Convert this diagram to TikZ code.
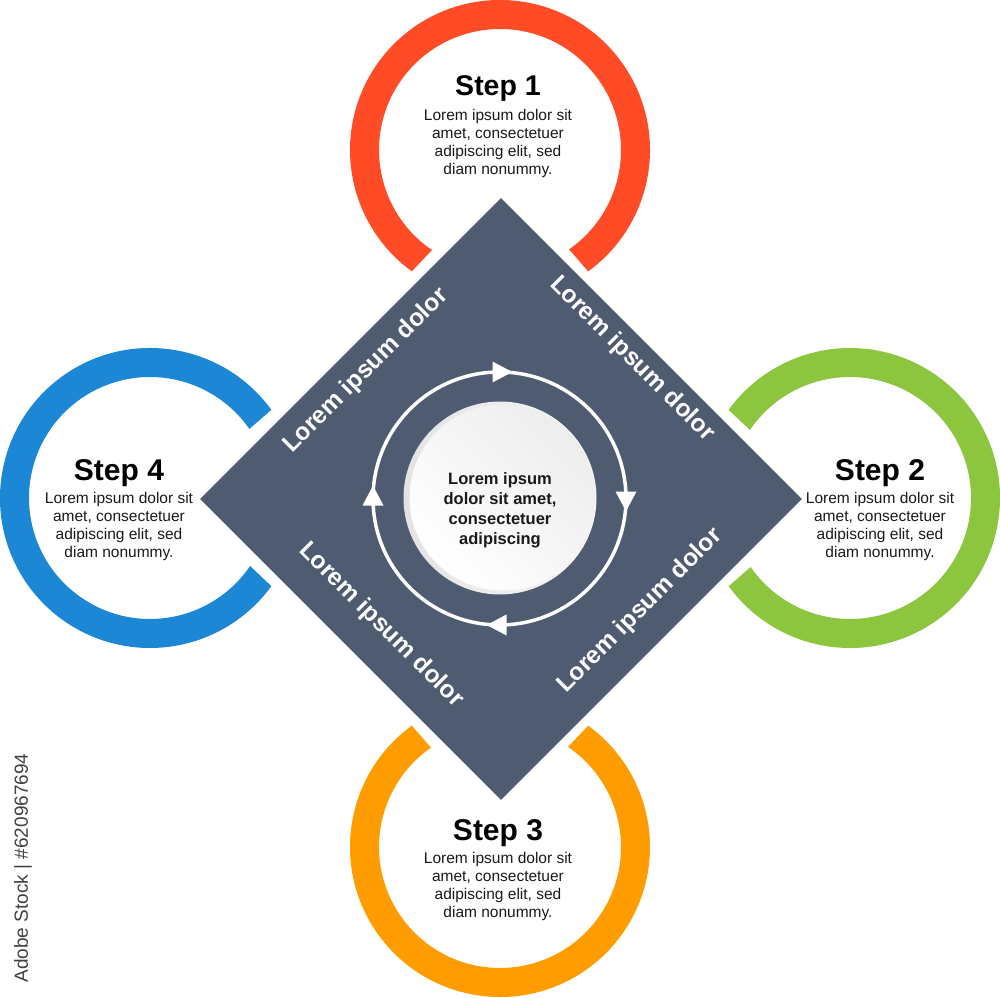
\documentclass[tikz,border=0pt]{standalone}
\usepackage{fontspec}
\setmainfont{Liberation Sans}
\usetikzlibrary{arrows.meta,shapes.geometric}
\definecolor{slate}{HTML}{4F5B70}
\definecolor{stepred}{HTML}{FF4B26}
\definecolor{stepgreen}{HTML}{8CC63F}
\definecolor{steporange}{HTML}{FF9D00}
\definecolor{stepblue}{HTML}{1C87D4}
\tikzstyle{title} = [font=\fontsize{30}{32}\selectfont\bfseries, text=black, inner sep=0pt]
\tikzstyle{body} = [font=\fontsize{15.5}{18}\selectfont, align=center, text=black!90, inner sep=0pt]
\tikzstyle{side} = [font=\fontsize{24.5}{28}\selectfont\bfseries, text=white, inner sep=0pt]
\tikzstyle{flow} = [line width=3.5pt, white, -{Triangle[length=20pt,width=20pt]}]
% open ring, gap at the bottom before rotating
\newcommand{\stepring}[3]{\fill[#3,shift={#1},rotate=#2] (-54:150)
  arc[start angle=-54,end angle=234,radius=150] -- (235.8:121)
  arc[start angle=235.8,end angle=-55.2,radius=121] -- cycle;}

\begin{document}
\begin{tikzpicture}[x=1pt,y=1pt,node distance=53pt]
  \useasboundingbox (0,0) rectangle (1000,997);

  \stepring{(500,847)}{0}{stepred}
  \stepring{(850,499)}{-90}{stepgreen}
  \stepring{(500,150)}{180}{steporange}
  \stepring{(150,499)}{90}{stepblue}

  \node[diamond,fill=slate,minimum size=602pt,inner sep=0pt,shape aspect=1] (hub) at (501,498) {};

  % centre disc and cycle
  \node[circle,minimum size=193pt,inner sep=0pt,left color=black!11,right color=black!3] (disc) at (500,499) {};
  \node[circle,minimum size=186pt,inner sep=0pt,top color=black!7,bottom color=white,shading angle=-45] (face) at (502.5,499.5) {};
  \node[circle,draw=white,line width=3.5pt,minimum size=253pt,inner sep=0pt,outer sep=0pt] (orbit) at (499.5,498.5) {};
  \draw[flow] (orbit.north) -- ++(13,0);
  \draw[flow] (orbit.east) -- ++(0,-13);
  \draw[flow] (orbit.south) -- ++(-13,0);
  \draw[flow] (orbit.west) -- ++(0,13);
  \node[font=\fontsize{16.5}{20}\selectfont\bfseries,align=center,text=black!90,inner sep=0pt] (core) at (500,487)
    {Lorem ipsum\\dolor sit amet,\\consectetuer\\adipiscing};

  % labels on the diamond
  \node[side,rotate=45]  (sidea) at (366,626) {Lorem ipsum dolor};
  \node[side,rotate=-45] (sideb) at (632,638) {Lorem ipsum dolor};
  \node[side,rotate=45]  (sidec) at (640,386) {Lorem ipsum dolor};
  \node[side,rotate=-45] (sided) at (381,372) {Lorem ipsum dolor};

  % steps
  \node[title,font=\fontsize{28.5}{32}\selectfont\bfseries] (t1) at (498,908) {Step 1};
  \node[body]  (b1) [below of=t1,node distance=54pt] {Lorem ipsum dolor sit\\amet, consectetuer\\adipiscing elit, sed\\diam nonummy.};
  \node[title] (t2) at (880,524) {Step 2};
  \node[body]  (b2) [below of=t2] {Lorem ipsum dolor sit\\amet, consectetuer\\adipiscing elit, sed\\diam nonummy.};
  \node[title] (t3) at (498,164) {Step 3};
  \node[body]  (b3) [below of=t3] {Lorem ipsum dolor sit\\amet, consectetuer\\adipiscing elit, sed\\diam nonummy.};
  \node[title] (t4) at (119,524) {Step 4};
  \node[body]  (b4) [below of=t4] {Lorem ipsum dolor sit\\amet, consectetuer\\adipiscing elit, sed\\diam nonummy.};

  \node[font=\fontsize{19}{22}\selectfont,text=black!75,rotate=90,inner sep=0pt] (stock) at (23,129) {Adobe Stock | \#620967694};
\end{tikzpicture}
\end{document}
